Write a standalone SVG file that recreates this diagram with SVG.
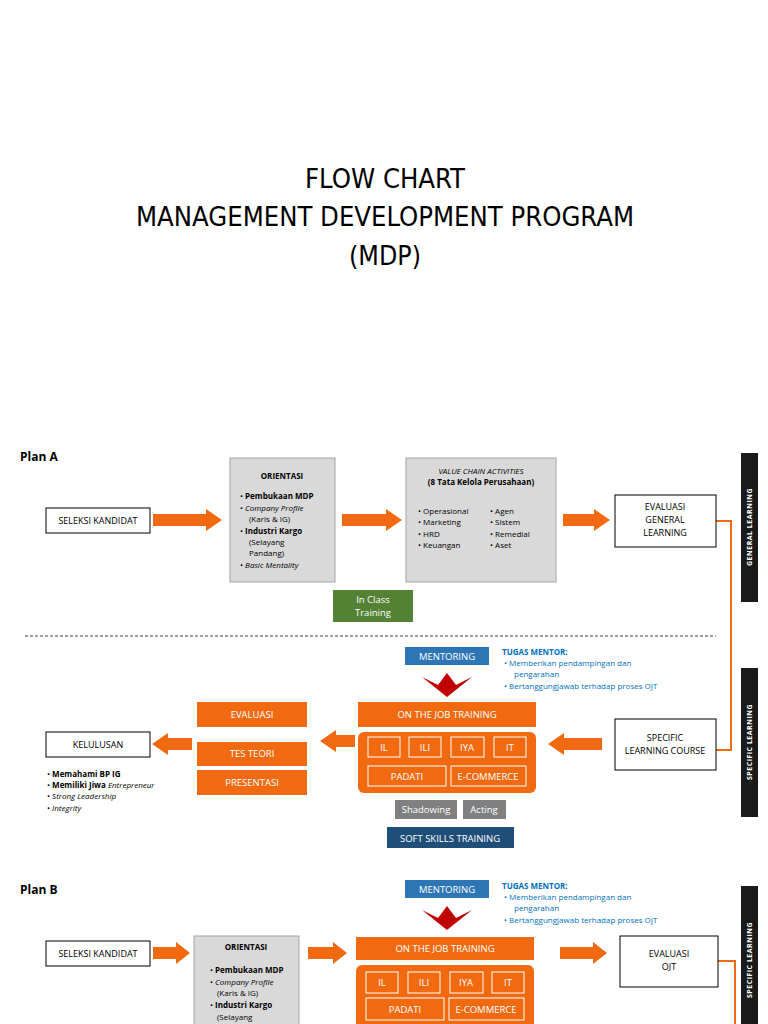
<svg xmlns="http://www.w3.org/2000/svg" width="768" height="1024" viewBox="0 0 768 1024">
<style>
text{font-family:"Open Sans","Liberation Sans",sans-serif;fill:#000}
.t{font-family:"DejaVu Sans Condensed","Liberation Sans",sans-serif;font-size:27px;text-anchor:middle}
.wb{fill:#fff;stroke:#000;stroke-width:1}
.gb{fill:#d9d9d9;stroke:#a6a6a6;stroke-width:1}
.s{font-size:9px;text-anchor:middle}
.xs{font-size:8px}
.ob{fill:#f26a10}
.w{fill:#fff;font-size:9.5px;text-anchor:middle}
.ib{fill:none;stroke:#fff;stroke-width:1}
.ar{fill:#f26a10}
.bl{fill:#0070c0;font-size:8px}
.bar{fill:#1a1a1a}
.vt{fill:#fff;font-size:7px;font-weight:bold;text-anchor:middle;letter-spacing:0.5px}
</style>
<rect width="768" height="1024" fill="#fff"/>
<g id="title">
<text class="t" x="385" y="188" textLength="160" lengthAdjust="spacingAndGlyphs">FLOW CHART</text>
<text class="t" x="385" y="226" textLength="498" lengthAdjust="spacingAndGlyphs">MANAGEMENT DEVELOPMENT PROGRAM</text>
<text class="t" x="385" y="265" textLength="72" lengthAdjust="spacingAndGlyphs">(MDP)</text>
</g>
<text x="20" y="461" font-size="12" font-weight="bold">Plan A</text>
<text x="20" y="894" font-size="12" font-weight="bold">Plan B</text>
<g id="connectors">
<polygon class="ar" points="153,514 206,514 206,509 222,520 206,531 206,526 153,526"/>
<polygon class="ar" points="342,514 386,514 386,509 402,520 386,531 386,526 342,526"/>
<polygon class="ar" points="563,514 594,514 594,509 610,520 594,531 594,526 563,526"/>
<polyline points="716,521 731,521 731,750 716,750" fill="none" stroke="#f26a10" stroke-width="2"/>
<polygon class="ar" points="602,738 564,738 564,733 548,744 564,755 564,750 602,750"/>
<polygon class="ar" points="355,735 336,735 336,730 320,741 336,752 336,747 355,747"/>
<polygon class="ar" points="192,738 168,738 168,733 152,744 168,755 168,750 192,750"/>
<polygon class="ar" points="153,947 176,947 176,942 190,953 176,964 176,959 153,959"/>
<polygon class="ar" points="308,947 333,947 333,942 347,953 333,964 333,959 308,959"/>
<polygon class="ar" points="560,947 593,947 593,942 607,953 593,964 593,959 560,959"/>
<polyline points="718,961 735,961 735,1024" fill="none" stroke="#f26a10" stroke-width="2"/>
<polygon fill="#c00000" points="422,677 438,685 447,673 456,685 472,677 447,697"/>
<polygon fill="#c00000" points="422,910 438,918 447,906 456,918 472,910 447,930"/>
</g>
<line x1="25" y1="636" x2="716" y2="636" stroke="#444" stroke-dasharray="3,2" stroke-width="1"/>
<g id="seleksiA"><rect class="wb" x="46" y="508" width="104" height="25"/><text class="s" x="98" y="524">SELEKSI KANDIDAT</text></g>
<g id="orientasiA"><rect class="gb" x="230" y="458" width="105" height="124"/>
<text class="xs" x="282" y="479" text-anchor="middle" font-weight="bold">ORIENTASI</text>
<text class="xs" x="240" y="499">• <tspan font-weight="bold">Pembukaan MDP</tspan></text>
<text class="xs" x="240" y="511">• <tspan font-style="italic">Company Profile</tspan></text>
<text class="xs" x="249" y="522">(Karis &amp; IG)</text>
<text class="xs" x="240" y="534">• <tspan font-weight="bold">Industri Kargo</tspan></text>
<text class="xs" x="249" y="545">(Selayang</text>
<text class="xs" x="249" y="556">Pandang)</text>
<text class="xs" x="240" y="568">• <tspan font-style="italic">Basic Mentality</tspan></text>
</g>
<g id="valuechain"><rect class="gb" x="406" y="458" width="150" height="124"/>
<text class="xs" x="481" y="474" text-anchor="middle" font-style="italic">VALUE CHAIN ACTIVITIES</text>
<text class="xs" x="481" y="485" text-anchor="middle" font-weight="bold">(8 Tata Kelola Perusahaan)</text>
<text class="xs" x="418" y="514">• Operasional</text><text class="xs" x="418" y="525">• Marketing</text><text class="xs" x="418" y="537">• HRD</text><text class="xs" x="418" y="548">• Keuangan</text>
<text class="xs" x="490" y="514">• Agen</text><text class="xs" x="490" y="525">• Sistem</text><text class="xs" x="490" y="537">• Remedial</text><text class="xs" x="490" y="548">• Aset</text>
</g>
<g id="evalGeneral"><rect class="wb" x="615" y="495" width="101" height="52"/>
<text class="s" x="665" y="510">EVALUASI</text><text class="s" x="665" y="523">GENERAL</text><text class="s" x="665" y="536">LEARNING</text></g>
<g id="barGeneral"><rect class="bar" x="741" y="453" width="17" height="149"/><text class="vt" transform="translate(752,527) rotate(-90)">GENERAL LEARNING</text></g>
<g id="inclass"><rect x="333" y="590" width="80" height="32" fill="#548235"/><text class="w" x="373" y="603">In Class</text><text class="w" x="373" y="616">Training</text></g>
<g id="mentoringA"><rect x="405" y="647" width="84" height="18" fill="#2e75b6"/><text class="w" x="447" y="660">MENTORING</text>
<text class="bl" x="502" y="655" font-weight="bold">TUGAS MENTOR:</text>
<text class="bl" x="504" y="666">•  Memberikan pendampingan dan</text><text class="bl" x="514" y="677">pengarahan</text>
<text class="bl" x="504" y="689">•  Bertanggungjawab terhadap proses OJT</text></g>
<g id="ojtA"><rect class="ob" x="358" y="702" width="178" height="25"/><text class="w" x="447" y="718">ON THE JOB TRAINING</text>
<rect class="ob" x="358" y="732" width="178" height="61" rx="6"/>
<rect class="ib" x="368" y="737" width="32" height="20"/><text class="w" x="384" y="751">IL</text>
<rect class="ib" x="409" y="737" width="32" height="20"/><text class="w" x="425" y="751">ILI</text>
<rect class="ib" x="451" y="737" width="33" height="20"/><text class="w" x="467" y="751">IYA</text>
<rect class="ib" x="494" y="737" width="32" height="20"/><text class="w" x="510" y="751">IT</text>
<rect class="ib" x="368" y="766" width="78" height="20"/><text class="w" x="407" y="780">PADATI</text>
<rect class="ib" x="451" y="766" width="75" height="20"/><text class="w" x="488" y="780">E-COMMERCE</text></g>
<g id="evalA"><rect class="ob" x="197" y="702" width="110" height="25"/><text class="w" x="252" y="718">EVALUASI</text>
<rect class="ob" x="197" y="742" width="110" height="24"/><text class="w" x="252" y="757">TES TEORI</text>
<rect class="ob" x="197" y="770" width="110" height="25"/><text class="w" x="252" y="786">PRESENTASI</text></g>
<g id="kelulusan"><rect class="wb" x="46" y="732" width="104" height="25"/><text class="s" x="98" y="748">KELULUSAN</text>
<text class="xs" x="47" y="777">•  <tspan font-weight="bold">Memahami BP IG</tspan></text>
<text class="xs" x="47" y="788">•  <tspan font-weight="bold">Memiliki Jiwa </tspan><tspan font-style="italic">Entrepreneur</tspan></text>
<text class="xs" x="47" y="799">•  <tspan font-style="italic">Strong Leadership</tspan></text>
<text class="xs" x="47" y="811">•  <tspan font-style="italic">Integrity</tspan></text></g>
<g id="specificA"><rect class="wb" x="615" y="719" width="101" height="51"/><text class="s" x="665" y="741">SPECIFIC</text><text class="s" x="665" y="754">LEARNING COURSE</text></g>
<g id="barSpecificA"><rect class="bar" x="741" y="668" width="17" height="149"/><text class="vt" transform="translate(752,742) rotate(-90)">SPECIFIC LEARNING</text></g>
<g id="softskills"><rect x="395" y="800" width="62" height="19" fill="#808080"/><text class="w" x="426" y="813">Shadowing</text>
<rect x="463" y="800" width="43" height="19" fill="#808080"/><text class="w" x="484" y="813">Acting</text>
<rect x="387" y="827" width="127" height="21" fill="#1f4e79"/><text class="w" x="450" y="842" font-size="10.5">SOFT SKILLS TRAINING</text></g>
<g id="mentoringB"><rect x="405" y="880" width="84" height="18" fill="#2e75b6"/><text class="w" x="447" y="893">MENTORING</text>
<text class="bl" x="502" y="889" font-weight="bold">TUGAS MENTOR:</text>
<text class="bl" x="504" y="900">•  Memberikan pendampingan dan</text><text class="bl" x="514" y="911">pengarahan</text>
<text class="bl" x="504" y="923">•  Bertanggungjawab terhadap proses OJT</text></g>
<g id="seleksiB"><rect class="wb" x="46" y="941" width="104" height="25"/><text class="s" x="98" y="957">SELEKSI KANDIDAT</text></g>
<g id="orientasiB"><rect class="gb" x="194" y="936" width="105" height="100"/>
<text class="xs" x="246" y="950" text-anchor="middle" font-weight="bold">ORIENTASI</text>
<text class="xs" x="210" y="973">• <tspan font-weight="bold">Pembukaan MDP</tspan></text>
<text class="xs" x="210" y="985">• <tspan font-style="italic">Company Profile</tspan></text>
<text class="xs" x="217" y="996">(Karis &amp; IG)</text>
<text class="xs" x="210" y="1008">• <tspan font-weight="bold">Industri Kargo</tspan></text>
<text class="xs" x="217" y="1020">(Selayang</text></g>
<g id="ojtB"><rect class="ob" x="356" y="937" width="178" height="23"/><text class="w" x="445" y="952">ON THE JOB TRAINING</text>
<rect class="ob" x="356" y="965" width="178" height="70" rx="6"/>
<rect class="ib" x="366" y="972" width="32" height="21"/><text class="w" x="382" y="986">IL</text>
<rect class="ib" x="408" y="972" width="32" height="21"/><text class="w" x="424" y="986">ILI</text>
<rect class="ib" x="450" y="972" width="33" height="21"/><text class="w" x="466" y="986">IYA</text>
<rect class="ib" x="492" y="972" width="32" height="21"/><text class="w" x="508" y="986">IT</text>
<rect class="ib" x="366" y="998" width="78" height="22"/><text class="w" x="405" y="1013">PADATI</text>
<rect class="ib" x="449" y="998" width="75" height="22"/><text class="w" x="486" y="1013">E-COMMERCE</text></g>
<g id="evalOJT"><rect class="wb" x="620" y="936" width="98" height="51"/><text class="s" x="669" y="957">EVALUASI</text><text class="s" x="669" y="970">OJT</text></g>
<g id="barSpecificB"><rect class="bar" x="741" y="886" width="17" height="150"/><text class="vt" transform="translate(752,960) rotate(-90)">SPECIFIC LEARNING</text></g>
</svg>
